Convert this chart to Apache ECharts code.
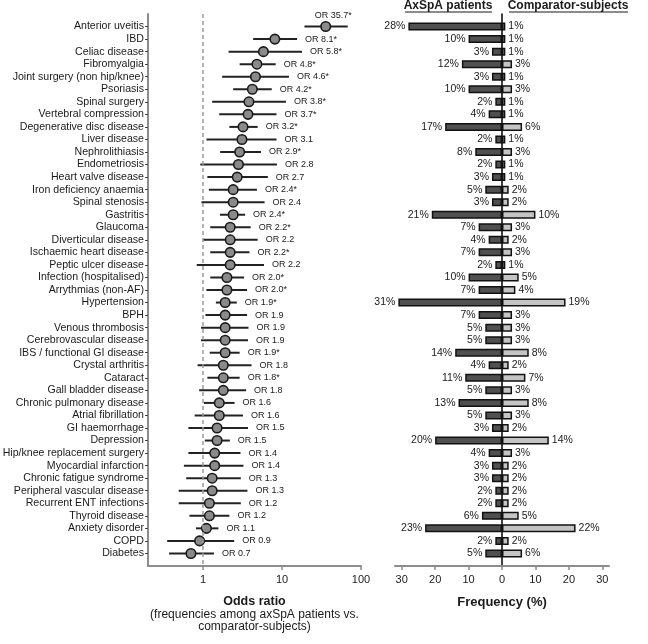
<!DOCTYPE html>
<html><head><meta charset="utf-8">
<script src="https://cdn.jsdelivr.net/npm/echarts@6/dist/echarts.min.js"></script>
<style>html,body{margin:0;padding:0;background:#fff}#c{width:648px;height:644px}</style>
</head><body><div id="c"></div>
<script>
const names = ["Anterior uveitis","IBD","Celiac disease","Fibromyalgia","Joint surgery (non hip/knee)","Psoriasis","Spinal surgery","Vertebral compression","Degenerative disc disease","Liver disease","Nephrolithiasis","Endometriosis","Heart valve disease","Iron deficiency anaemia","Spinal stenosis","Gastritis","Glaucoma","Diverticular disease","Ischaemic heart disease","Peptic ulcer disease","Infection (hospitalised)","Arrythmias (non-AF)","Hypertension","BPH","Venous thrombosis","Cerebrovascular disease","IBS / functional GI disease","Crystal arthritis","Cataract","Gall bladder disease","Chronic pulmonary disease","Atrial fibrillation","GI haemorrhage","Depression","Hip/knee replacement surgery","Myocardial infarction","Chronic fatigue syndrome","Peripheral vascular disease","Recurrent ENT infections","Thyroid disease","Anxiety disorder","COPD","Diabetes"];
const orValues = [35.7,8.1,5.8,4.8,4.6,4.2,3.8,3.7,3.2,3.1,2.9,2.8,2.7,2.4,2.4,2.4,2.2,2.2,2.2,2.2,2.0,2.0,1.9,1.9,1.9,1.9,1.9,1.8,1.8,1.8,1.6,1.6,1.5,1.5,1.4,1.4,1.3,1.3,1.2,1.2,1.1,0.9,0.7];
const significant = [1,1,1,1,1,1,1,1,1,0,1,0,0,1,0,1,1,0,1,0,1,1,1,0,0,0,1,0,1,0,0,0,0,0,0,0,0,0,0,0,0,0,0];
const ciLow = [19.2,4.3,2.1,2.9,1.74,2.4,1.3,1.6,2.15,1.1,1.64,0.92,1.13,1.18,0.95,1.63,1.23,0.99,1.23,0.83,1.23,1.1,1.45,1.07,0.94,0.94,1.21,0.85,1.13,0.89,1.02,0.78,0.65,1.05,0.65,0.57,0.61,0.49,0.49,0.67,0.81,0.35,0.37];
const ciHigh = [67.8,15.5,17.9,8.3,12.2,7.4,11.2,8.5,4.9,8.5,5.4,8.6,6.6,4.8,6.0,3.4,4.0,4.9,3.86,5.9,3.3,3.6,2.67,3.6,3.75,3.7,2.9,4.1,2.9,3.5,2.5,3.2,3.7,2.18,2.97,3.24,3.0,3.64,3.0,2.15,1.56,2.47,1.37];
const axspaPct = [28,10,3,12,3,10,2,4,17,2,8,2,3,5,3,21,7,4,7,2,10,7,31,7,5,5,14,4,11,5,13,5,3,20,4,3,3,2,2,6,23,2,5];
const comparatorPct = [1,1,1,3,1,3,1,1,6,1,3,1,1,2,2,10,3,2,3,1,5,4,19,3,3,3,8,2,7,3,8,3,2,14,3,2,2,2,2,5,22,2,6];
const orTicks = [1,10,100];
const freqTicks = [-30,-20,-10,0,10,20,30];

const FONT = 'Arial, "Liberation Sans", sans-serif';
const TXT = '#1a1a1a';
const cats = [' '].concat(names).concat(['  ']);
const lg = v => Math.log10(v);

const chart = echarts.init(document.getElementById('c'), null, {renderer:'canvas'});
const ciData = names.map((n,i)=>[lg(ciLow[i]), lg(ciHigh[i]), i+1]);
const ptData = names.map((n,i)=>[lg(orValues[i]), i+1]);
const lblData = names.map((n,i)=>[lg(ciHigh[i]), i+1]);

const option = {
  animation:false,
  textStyle:{fontFamily:FONT},
  grid:[
    {left:148, width:213, top:14, height:552, containLabel:false, outerBoundsMode:'none'},
    {left:395, width:214, top:14, height:552, containLabel:false, outerBoundsMode:'none'}
  ],
  xAxis:[
    {type:'value', gridIndex:0, min:lg(0.2), max:2,
     axisLine:{show:true, onZero:false, lineStyle:{color:'#8c8c8c', width:2}},
     axisTick:{show:true, length:4, customValues:orTicks.map(lg), lineStyle:{color:'#8c8c8c', width:1.5}},
     axisLabel:{customValues:orTicks.map(lg), formatter:v=>String(Math.round(Math.pow(10,v))), fontSize:11, color:TXT, margin:8},
     splitLine:{show:false},
     name:'{t|Odds ratio}\n{s|(frequencies among axSpA patients vs.}\n{s|comparator-subjects)}',
     nameLocation:'middle', nameGap:29,
     nameTextStyle:{rich:{t:{fontSize:12.5, fontWeight:'bold', lineHeight:14, color:TXT, fontFamily:FONT, align:'center'}, s:{fontSize:12, lineHeight:12, color:TXT, fontFamily:FONT, align:'center'}}}
    },
    {type:'value', gridIndex:1, min:-32, max:32,
     axisLine:{show:true, onZero:false, lineStyle:{color:'#8c8c8c', width:2}},
     axisTick:{show:true, length:4, customValues:freqTicks, lineStyle:{color:'#8c8c8c', width:1.5}},
     axisLabel:{customValues:freqTicks, formatter:v=>String(Math.abs(v)), fontSize:11, color:TXT, margin:8},
     splitLine:{show:false},
     name:'Frequency (%)', nameLocation:'middle', nameGap:29,
     nameTextStyle:{fontSize:13, fontWeight:'bold', color:TXT, lineHeight:14}
    }
  ],
  yAxis:[
    {type:'category', gridIndex:0, data:cats, inverse:true, boundaryGap:false,
     axisLine:{show:true, onZero:false, lineStyle:{color:'#8c8c8c', width:2}},
     axisTick:{show:true, length:3, interval:(i)=> i>0 && i<cats.length-1, lineStyle:{color:'#444', width:1}},
     axisLabel:{fontSize:10.6, color:TXT, margin:4, interval:0},
     splitLine:{show:false}
    },
    {type:'category', gridIndex:1, data:cats, inverse:true, boundaryGap:false,
     axisLine:{show:true, onZero:true, lineStyle:{color:'#000', width:1.5}},
     axisTick:{show:false}, axisLabel:{show:false}, splitLine:{show:false}
    }
  ],
  series:[
    {type:'custom', xAxisIndex:0, yAxisIndex:0, z:2, data:ciData, encode:{x:[0,1], y:2},
     renderItem:(params, api)=>{
       const y = api.value(2);
       const p1 = api.coord([api.value(0), y]);
       const p2 = api.coord([api.value(1), y]);
       return {type:'line', shape:{x1:p1[0], y1:p1[1], x2:p2[0], y2:p2[1]}, style:{stroke:'#222', lineWidth:2}};
     }},
    {type:'scatter', xAxisIndex:0, yAxisIndex:0, z:4, data:ptData, symbol:'circle', symbolSize:9.5,
     itemStyle:{color:'#8a8a8a', borderColor:'#1a1a1a', borderWidth:1.6, opacity:1},
     markLine:{silent:true, symbol:['none','none'], label:{show:false},
       lineStyle:{type:[4,3], color:'#9a9a9a', width:1.5}, data:[{xAxis:0}]}
    },
    {type:'custom', xAxisIndex:0, yAxisIndex:0, z:5, data:lblData, encode:{x:0, y:1},
     renderItem:(params, api)=>{
       const i = params.dataIndex;
       const p = api.coord([api.value(0), api.value(1)]);
       const txt = 'OR ' + orValues[i].toFixed(1) + (significant[i] ? '*' : '');
       const above = p[0] + 48 > 380;
       return {type:'text', x: above ? p[0]+4 : p[0]+8, y: above ? p[1]-11 : p[1],
         style:{text:txt, fill:TXT, font:'9px ' + FONT, align: above ? 'right' : 'left', verticalAlign:'middle'}};
     }},
    {type:'bar', name:'AxSpA patients', xAxisIndex:1, yAxisIndex:1, barWidth:8, barGap:'-100%',
     data:axspaPct.map((v,i)=>[-v, i+1]),
     itemStyle:{color:'#505050', borderColor:'#111', borderWidth:1.5},
     label:{show:true, position:'left', distance:3, fontSize:10.5, color:TXT, formatter:p=>Math.abs(p.value[0])+'%'}
    },
    {type:'bar', name:'Comparator-subjects', xAxisIndex:1, yAxisIndex:1, barWidth:8, barGap:'-100%',
     data:comparatorPct.map((v,i)=>[v, i+1]),
     itemStyle:{color:'#c4c4c4', borderColor:'#111', borderWidth:1.5},
     label:{show:true, position:'right', distance:3, fontSize:10.5, color:TXT, formatter:p=>p.value[0]+'%'}
    }
  ],
  graphic:[
    {type:'text', x:448, y:6, style:{text:'AxSpA patients', font:'bold 12px ' + FONT, fill:TXT, align:'center', verticalAlign:'middle'}},
    {type:'line', shape:{x1:405, y1:12, x2:492, y2:12}, style:{stroke:TXT, lineWidth:1.2}},
    {type:'text', x:568, y:6, style:{text:'Comparator-subjects', font:'bold 12px ' + FONT, fill:TXT, align:'center', verticalAlign:'middle'}},
    {type:'line', shape:{x1:509, y1:12, x2:628, y2:12}, style:{stroke:TXT, lineWidth:1.2}}
  ]
};
chart.setOption(option);
</script></body></html>
